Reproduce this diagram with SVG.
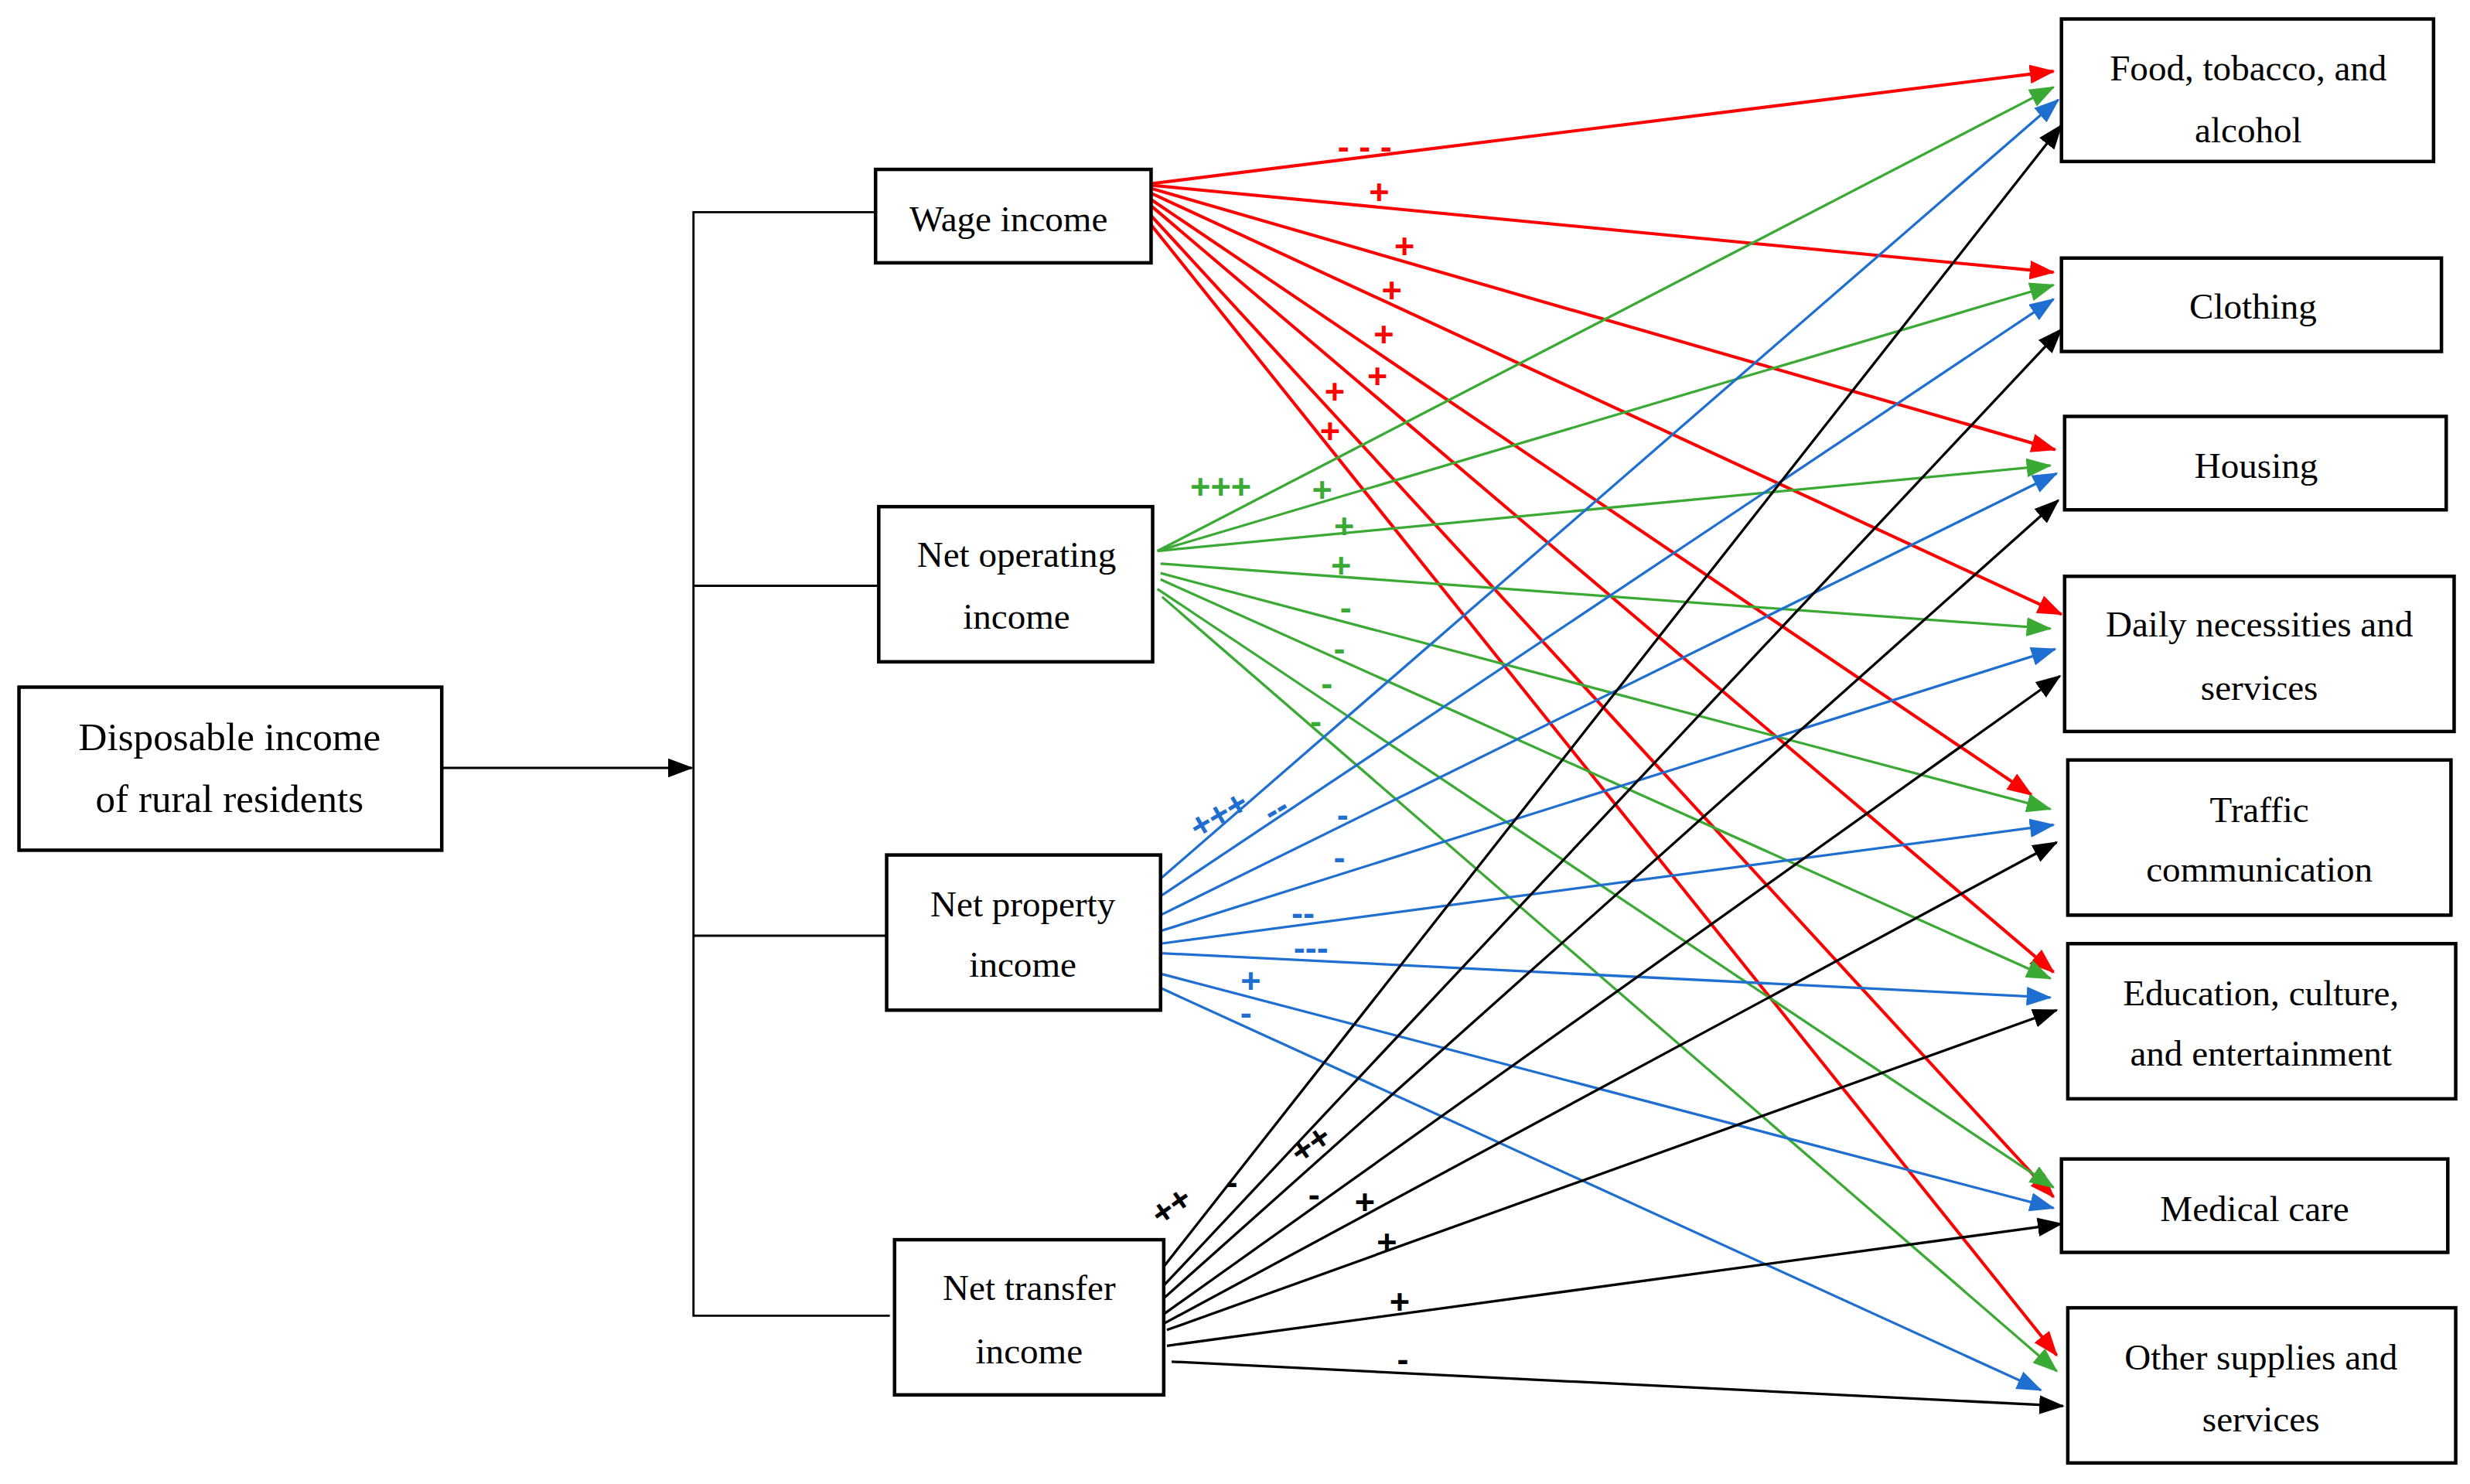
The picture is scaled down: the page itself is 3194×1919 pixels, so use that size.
<svg xmlns="http://www.w3.org/2000/svg" width="3194" height="1919" viewBox="0 0 3194 1919">
<style>
.box{fill:#fff;stroke:#000;stroke-width:2.2}
.t{font-family:"Liberation Serif",serif;font-size:23px;text-anchor:middle;fill:#000}
.big{font-size:25px}
.s{font-family:"Liberation Sans",sans-serif;font-size:22px;font-weight:bold;text-anchor:middle}
.r{stroke:#f00;stroke-width:2;fill:none;marker-end:url(#ar)}
.g{stroke:#3aaa35;stroke-width:1.6;fill:none;marker-end:url(#ag)}
.b{stroke:#1f6fd0;stroke-width:1.6;fill:none;marker-end:url(#ab)}
.k{stroke:#000;stroke-width:1.6;fill:none;marker-end:url(#ak)}
.tree{stroke:#000;stroke-width:1.4;fill:none}
</style>
<defs>
<marker id="ar" markerUnits="userSpaceOnUse" markerWidth="16" markerHeight="12" refX="15" refY="6" orient="auto"><path d="M0,0L16,6L0,12z" fill="#f00"/></marker>
<marker id="ag" markerUnits="userSpaceOnUse" markerWidth="16" markerHeight="12" refX="15" refY="6" orient="auto"><path d="M0,0L16,6L0,12z" fill="#3aaa35"/></marker>
<marker id="ab" markerUnits="userSpaceOnUse" markerWidth="16" markerHeight="12" refX="15" refY="6" orient="auto"><path d="M0,0L16,6L0,12z" fill="#1f6fd0"/></marker>
<marker id="ak" markerUnits="userSpaceOnUse" markerWidth="16" markerHeight="12" refX="15" refY="6" orient="auto"><path d="M0,0L16,6L0,12z" fill="#000"/></marker>
</defs>
<rect width="3194" height="1919" fill="#fff"/>
<g transform="scale(2.0474)">
<g id="connectors">
<path class="tree" d="M553,134H438V831H562M438,370H555M438,591H560"/>
<path class="tree" d="M279,485H437" marker-end="url(#ak)"/>
<line class="r" x1="727" y1="116" x2="1297" y2="45"/>
<line class="r" x1="727" y1="117" x2="1297" y2="172"/>
<line class="r" x1="727" y1="119" x2="1298" y2="284"/>
<line class="r" x1="727" y1="122" x2="1302" y2="388"/>
<line class="r" x1="727" y1="126" x2="1283" y2="502"/>
<line class="r" x1="727" y1="130" x2="1297" y2="614"/>
<line class="r" x1="725" y1="134" x2="1297" y2="756"/>
<line class="r" x1="723" y1="137" x2="1299" y2="856"/>
<line class="g" x1="731" y1="348" x2="1297" y2="55"/>
<line class="g" x1="731" y1="348" x2="1297" y2="180"/>
<line class="g" x1="731" y1="348" x2="1295" y2="294"/>
<line class="g" x1="733" y1="356" x2="1295" y2="397"/>
<line class="g" x1="733" y1="362" x2="1295" y2="511"/>
<line class="g" x1="733" y1="366" x2="1295" y2="618"/>
<line class="g" x1="731" y1="372" x2="1297" y2="750"/>
<line class="g" x1="734" y1="377" x2="1299" y2="866"/>
<line class="b" x1="733" y1="555" x2="1300" y2="63"/>
<line class="b" x1="733" y1="566" x2="1297" y2="189"/>
<line class="b" x1="733" y1="578" x2="1299" y2="299"/>
<line class="b" x1="733" y1="588" x2="1298" y2="410"/>
<line class="b" x1="733" y1="596" x2="1297" y2="521"/>
<line class="b" x1="733" y1="602" x2="1295" y2="630"/>
<line class="b" x1="733" y1="615" x2="1297" y2="763"/>
<line class="b" x1="733" y1="624" x2="1289" y2="878"/>
<line class="k" x1="735" y1="800" x2="1302" y2="79"/>
<line class="k" x1="735" y1="812" x2="1302" y2="208"/>
<line class="k" x1="735" y1="820" x2="1300" y2="316"/>
<line class="k" x1="735" y1="830" x2="1301" y2="427"/>
<line class="k" x1="735" y1="836" x2="1299" y2="532"/>
<line class="k" x1="737" y1="840" x2="1299" y2="638"/>
<line class="k" x1="737" y1="850" x2="1302" y2="773"/>
<line class="k" x1="740" y1="860" x2="1303" y2="888"/>
</g>
<g id="signs">
<g fill="#f00" class="s"><text x="862" y="100">- - -</text><text x="871" y="129">+</text><text x="887" y="163">+</text><text x="879" y="191">+</text><text x="874" y="219">+</text><text x="870" y="245">+</text><text x="843" y="255">+</text><text x="840" y="280">+</text></g>
<g fill="#3aaa35" class="s"><text x="771" y="315">+++</text><text x="835" y="317">+</text><text x="849" y="340">+</text><text x="847" y="365">+</text><text x="850" y="391">-</text><text x="846" y="417">-</text><text x="838" y="439">-</text><text x="831" y="463">-</text></g>
<g fill="#1f6fd0" class="s"><text x="770" y="522" transform="rotate(-30 770 515)">+++</text><text x="806" y="518" transform="rotate(-30 806 511)">--</text><text x="848" y="522">-</text><text x="846" y="549">-</text><text x="823" y="584">--</text><text x="828" y="606">---</text><text x="790" y="627">+</text><text x="787" y="647">-</text></g>
<g fill="#000" class="s"><text x="740" y="769" transform="rotate(-35 740 762)">++</text><text x="778" y="754">-</text><text x="828" y="730" transform="rotate(-35 828 723)">++</text><text x="830" y="762">-</text><text x="862" y="767">+</text><text x="876" y="792">+</text><text x="884" y="830">+</text><text x="886" y="866">-</text></g>
</g>
<g id="n-disposable"><rect class="box" x="12" y="434" width="267" height="103"/><text class="t big" x="145" y="474">Disposable income</text><text class="t big" x="145" y="513">of rural residents</text></g>
<g id="n-wage"><rect class="box" x="553" y="107" width="174" height="59"/><text class="t" x="637" y="146">Wage income</text></g>
<g id="n-operating"><rect class="box" x="555" y="320" width="173" height="98"/><text class="t" x="642" y="358">Net operating</text><text class="t" x="642" y="397">income</text></g>
<g id="n-property"><rect class="box" x="560" y="540" width="173" height="98"/><text class="t" x="646" y="579">Net property</text><text class="t" x="646" y="617">income</text></g>
<g id="n-transfer"><rect class="box" x="565" y="783" width="170" height="98"/><text class="t" x="650" y="821">Net transfer</text><text class="t" x="650" y="861">income</text></g>
<g id="n-food"><rect class="box" x="1302" y="12" width="235" height="90"/><text class="t" x="1420" y="51">Food, tobacco, and</text><text class="t" x="1420" y="90">alcohol</text></g>
<g id="n-clothing"><rect class="box" x="1302" y="163" width="240" height="59"/><text class="t" x="1423" y="201">Clothing</text></g>
<g id="n-housing"><rect class="box" x="1304" y="263" width="241" height="59"/><text class="t" x="1425" y="302">Housing</text></g>
<g id="n-daily"><rect class="box" x="1304" y="364" width="246" height="98"/><text class="t" x="1427" y="402">Daily necessities and</text><text class="t" x="1427" y="442">services</text></g>
<g id="n-traffic"><rect class="box" x="1306" y="480" width="242" height="98"/><text class="t" x="1427" y="519">Traffic</text><text class="t" x="1427" y="557">communication</text></g>
<g id="n-education"><rect class="box" x="1306" y="596" width="245" height="98"/><text class="t" x="1428" y="635">Education, culture,</text><text class="t" x="1428" y="673">and entertainment</text></g>
<g id="n-medical"><rect class="box" x="1302" y="732" width="244" height="59"/><text class="t" x="1424" y="771">Medical care</text></g>
<g id="n-other"><rect class="box" x="1306" y="826" width="245" height="98"/><text class="t" x="1428" y="865">Other supplies and</text><text class="t" x="1428" y="904">services</text></g>
</g>
</svg>
